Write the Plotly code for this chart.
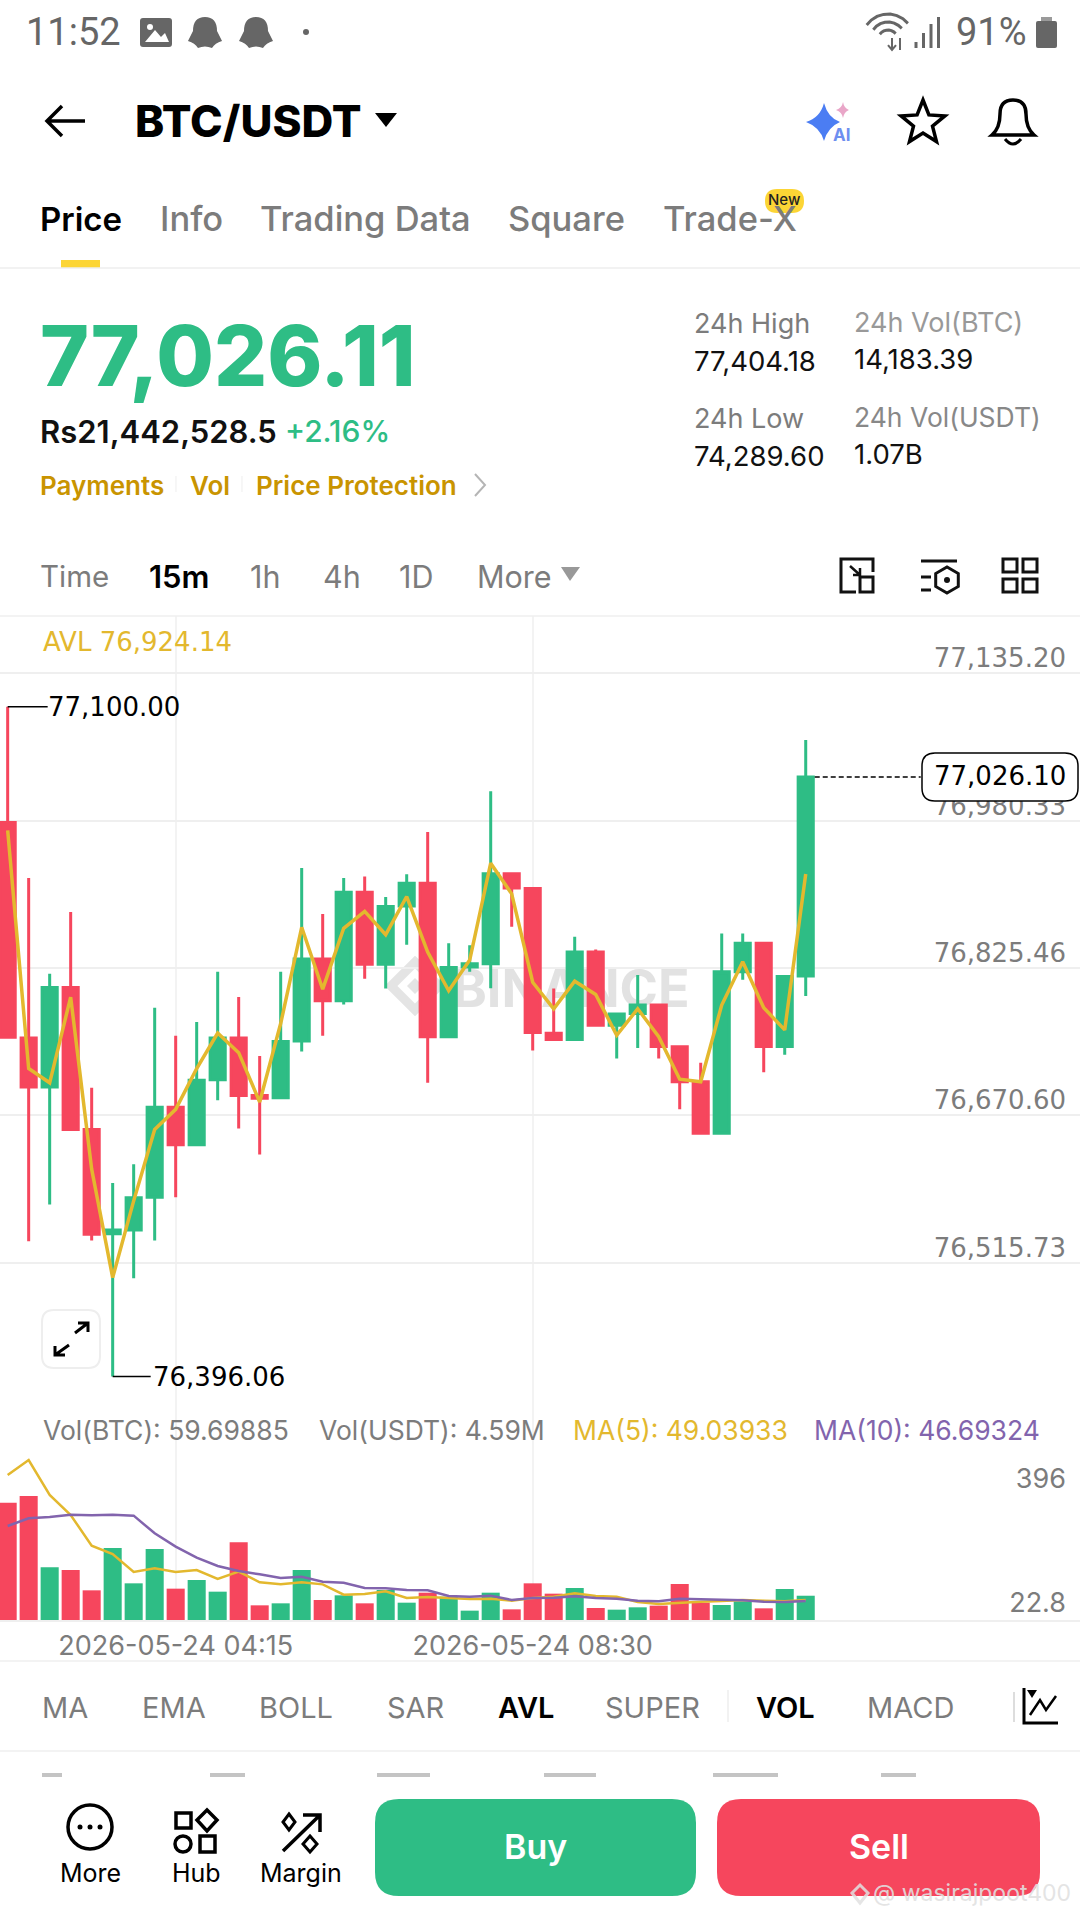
import math
import re
import pandas as pd
import plotly.graph_objects as go

# ---------- data ----------
times = pd.date_range("2026-05-24 02:15", periods=39, freq="15min")
opens = [76978.4, 76751.9, 76700.2, 76804.8, 76655.7, 76546.1, 76550.0, 76584.5, 76679.1, 76639.6,
         76708.0, 76751.9, 76691.3, 76689.1, 76748.6, 76834.8, 76790.9, 76904.9, 76829.3, 76890.5,
         76914.4, 76753.1, 76826.5, 76829.8, 76924.4, 76908.8, 76756.9, 76750.3, 76842.1, 76765.3,
         76777.5, 76786.4, 76742.5, 76705.8, 76651.8, 76821.5, 76851.5, 76743.0, 76817.0]
closes = [76752.5, 76700.2, 76804.8, 76655.7, 76545.6, 76550.0, 76583.9, 76679.1, 76639.6, 76707.4,
          76751.9, 76691.3, 76688.5, 76748.0, 76834.8, 76790.9, 76904.9, 76829.3, 76889.9, 76914.4,
          76753.1, 76825.9, 76829.8, 76924.4, 76909.4, 76757.5, 76750.3, 76842.1, 76765.3, 76777.0,
          76786.4, 76743.0, 76705.8, 76651.8, 76821.5, 76851.5, 76743.0, 76816.5, 77026.1]
highs = [77100.0, 76919.9, 76819.2, 76884.3, 76699.6, 76599.5, 76619.0, 76783.6, 76754.2, 76768.6,
         76821.5, 76794.8, 76733.0, 76821.5, 76930.5, 76882.1, 76919.9, 76921.6, 76899.9, 76923.8,
         76968.3, 76851.5, 76849.3, 77011.2, 76924.4, 76908.8, 76803.7, 76858.2, 76844.8, 76777.0,
         76818.1, 76786.4, 76742.5, 76725.8, 76861.5, 76861.5, 76851.5, 76816.5, 77065.1]
lows = [76752.5, 76538.3, 76576.7, 76655.7, 76538.9, 76396.06, 76499.4, 76538.9, 76584.5, 76639.6,
        76686.3, 76656.8, 76629.5, 76689.1, 76737.5, 76754.2, 76787.0, 76814.2, 76803.7, 76849.8,
        76704.7, 76753.1, 76821.5, 76804.2, 76868.8, 76738.6, 76750.3, 76750.3, 76763.6, 76730.2,
        76741.4, 76730.2, 76676.8, 76651.8, 76651.8, 76813.1, 76715.8, 76734.1, 76795.9]
avl = [76970.0, 76719.7, 76704.7, 76794.8, 76614.0, 76500.0, 76580.6, 76655.7, 76676.8, 76719.7,
       76757.0, 76736.4, 76684.6, 76767.0, 76868.2, 76803.1, 76867.1, 76884.9, 76860.4, 76900.5,
       76842.1, 76801.5, 76833.7, 76935.5, 76903.3, 76810.4, 76782.5, 76811.5, 76797.6, 76754.7,
       76782.5, 76753.1, 76708.5, 76705.8, 76786.4, 76832.0, 76783.6, 76760.3, 76924.14]
volumes = [288.6, 305.0, 129.6, 123.0, 73.0, 177.1, 90.2, 174.7, 77.1, 98.4,
           69.7, 191.1, 36.1, 41.0, 123.0, 49.2, 60.7, 41.0, 73.8, 42.6,
           67.2, 57.4, 23.0, 67.2, 26.2, 90.2, 64.8, 78.7, 29.5, 25.4,
           31.2, 35.3, 88.6, 42.6, 36.9, 45.9, 28.7, 76.3, 59.7]
ma5 = [356.7, 393.6, 307.5, 258.3, 182.9, 162.4, 118.1, 127.1, 118.1, 123.0,
       100.9, 118.9, 92.7, 87.7, 92.7, 87.7, 62.3, 64.0, 70.5, 54.1,
       56.6, 53.3, 51.7, 52.5, 47.6, 54.1, 57.4, 65.6, 59.0, 57.4,
       44.3, 39.4, 42.6, 45.1, 46.7, 49.2, 47.6, 45.9, 49.04]
ma10 = [231.2, 250.1, 253.4, 259.1, 257.5, 259.1, 256.7, 213.2, 180.4, 153.3,
        132.8, 120.5, 112.3, 103.3, 106.6, 94.3, 91.8, 78.7, 77.9, 73.8,
        73.0, 59.0, 57.4, 59.9, 49.2, 54.1, 54.9, 58.2, 54.1, 52.5,
        47.6, 45.9, 52.5, 50.8, 50.8, 48.4, 45.1, 44.3, 46.69]
price_ticks = [77135.20, 76980.33, 76825.46, 76670.60, 76515.73, 76360.86]
time_ticks = ["2026-05-24 04:15", "2026-05-24 08:30"]
vol_tick_labels = ["22.8", "396"]
vol_tick_vals = [0, 307]
last_price = 77026.10
high_price = 77100.00
low_price = 76396.06

# ---------- style ----------
W, H = 1080, 1920
GREEN, RED = "#2EBD85", "#F6465D"
GRAY, LIGHT = "#7C7C7C", "#EFEFEF"
YELLOW, PURPLE = "#E3B82E", "#8264AD"
FONT = "Inter"
WIDE = "DejaVu Sans"
bar_colors = [GREEN if c >= o else RED for o, c in zip(opens, closes)]

def X(px):
    return px / W

def Y(py):
    return 1 - py / H

def P(d):
    toks = re.findall(r"[MLQCZ]|-?\d+\.?\d*", d)
    out, nums = [], []
    for t in toks:
        if t.isalpha():
            out.append(t)
        else:
            nums.append(float(t))
            if len(nums) == 2:
                out.append(f"{X(nums[0]):.5f},{Y(nums[1]):.5f}")
                nums = []
    return " ".join(out)

shapes, anns = [], []

def path(d, line=None, w=2.0, fill=None, layer="above"):
    s = dict(type="path", xref="paper", yref="paper", path=P(d), layer=layer,
             line=dict(color=line or "rgba(0,0,0,0)", width=w if line else 0))
    if fill:
        s["fillcolor"] = fill
    shapes.append(s)

def rrect(x0, y0, x1, y1, r, **kw):
    path(f"M {x0+r} {y0} L {x1-r} {y0} Q {x1} {y0} {x1} {y0+r} L {x1} {y1-r} Q {x1} {y1} {x1-r} {y1} "
         f"L {x0+r} {y1} Q {x0} {y1} {x0} {y1-r} L {x0} {y0+r} Q {x0} {y0} {x0+r} {y0} Z", **kw)

def circle(cx, cy, r, line=None, w=2.0, fill=None):
    s = dict(type="circle", xref="paper", yref="paper", x0=X(cx-r), x1=X(cx+r), y0=Y(cy+r), y1=Y(cy-r),
             line=dict(color=line or "rgba(0,0,0,0)", width=w if line else 0))
    if fill:
        s["fillcolor"] = fill
    shapes.append(s)

def text(x, y, t, size=27, color=GRAY, bold=False, anchor="left", font=FONT, weight=None):
    anns.append(dict(xref="paper", yref="paper", x=X(x), y=Y(y), text=t, showarrow=False, xanchor=anchor,
                     yanchor="middle", borderpad=0,
                     font=dict(family=font, size=size, color=color, weight=weight or (700 if bold else 400))))

# ---------- status bar ----------
text(25, 32, "11:52", 38, "#666666", font="Roboto")
rrect(140, 18, 172, 47, 3, fill="#666666")
path("M 145 42 L 155 30 L 161 37 L 165 33 L 169 42 Z", fill="#FFFFFF")
circle(150, 27, 3, fill="#FFFFFF")
for cx in (205, 256):
    path(f"M {cx} 17 Q {cx+12} 17 {cx+12} 31 L {cx+17} 41 Q {cx+10} 43 {cx+7} 48 Q {cx} 45 {cx-7} 48 "
         f"Q {cx-10} 43 {cx-17} 41 L {cx-12} 31 Q {cx-12} 17 {cx} 17 Z", fill="#666666")
circle(306, 32, 3, fill="#666666")
for r, wd in ((26, 3), (18, 3), (10, 3)):
    pts = [(888 + r * math.cos(math.radians(a)), 40 + r * math.sin(math.radians(a))) for a in range(215, 326, 15)]
    path("M " + " L ".join(f"{a:.1f} {b:.1f}" for a, b in pts), line="#666666", w=wd)
path("M 892 38 L 892 50 M 888 45 L 892 50 L 896 45 M 900 50 L 900 38", line="#666666", w=2)
for i, top in enumerate((42, 33, 24, 17)):
    x = 916 + i * 7.5
    path(f"M {x} {top} L {x} 48", line="#666666", w=3)
text(955, 32, "91%", 38, "#666666", font="Roboto")
rrect(1036, 21, 1057, 48, 2, fill="#666666")
path("M 1041 17 L 1052 17 L 1052 21 L 1041 21 Z", fill="#9A9A9A")

# ---------- title bar ----------
path("M 85 121 L 47 121 M 62 106 L 47 121 L 62 136", line="#000000", w=3.5)
text(134, 121, "BTC/USDT", 44, "#000000", weight=800)
path("M 375 113 L 397 113 L 386 127 Z", fill="#000000")
path("M 824 103 Q 828 118 840 122 Q 828 127 824 141 Q 820 127 806 122 Q 820 118 824 103 Z", fill="#4B7DF3")
path("M 843 102 Q 844 108 849 110 Q 844 112 843 118 Q 842 112 836 110 Q 842 108 843 102 Z", fill="#E9A6C8")
text(841, 135, "AI", 17, "#6E8FF0", True, "center")
star = []
for i in range(10):
    r = 23 if i % 2 == 0 else 10
    a = math.radians(-90 + i * 36)
    star.append((921 + r * math.cos(a) + 2, 123 + r * math.sin(a)))
path("M " + " L ".join(f"{a:.1f} {b:.1f}" for a, b in star) + " Z", line="#000000", w=3.5)
path("M 992 135 Q 1000 128 1000 114 Q 1000 100 1013 100 Q 1026 100 1026 114 Q 1026 128 1034 135 Z",
     line="#000000", w=3.5)
path("M 1005 139 Q 1013 149 1021 139", line="#000000", w=3)

# ---------- tabs ----------
text(39, 219, "Price", 33, "#000000", weight=600)
for x, t in ((159, "Info"), (259, "Trading Data"), (507, "Square"), (662, "Trade-X")):
    text(x, 219, t, 34.5, GRAY, weight=500)
rrect(765, 189, 804, 213, 12, fill="#FCD535")
text(784, 200, "New", 15, "#222222", weight=500, anchor="center")
path("M 61 260 L 100 260 L 100 268 L 61 268 Z", fill="#FCD535")
path("M 0 268 L 1080 268", line="#EEEEEE", w=1.5)

# ---------- price header ----------
text(39, 355, "77,026.11", 83.5, GREEN, weight=800)
text(39, 432, "Rs21,442,528.5", 31, "#111111", weight=600)
text(284, 431, "+2.16%", 30, GREEN, weight=500)
text(39, 485, "Payments", 26, "#C99400", weight=600)
text(189, 485, "Vol", 26, "#C99400", weight=600)
text(255, 485, "Price Protection", 26, "#C99400", weight=600)
path("M 176 476 L 176 492 M 242 476 L 242 492", line="#EEEEEE", w=1)
path("M 475 474 L 485 485 L 475 496", line="#B5B5B5", w=2)
for x, y, t, c, sz in ((693, 324, "24h High", GRAY, 27), (693, 361, "77,404.18", "#111111", 27.5),
                       (693, 418, "24h Low", GRAY, 27), (693, 456, "74,289.60", "#111111", 27.5),
                       (853, 322, "24h Vol(BTC)", "#999999", 27), (853, 359, "14,183.39", "#111111", 27.5),
                       (853, 417, "24h Vol(USDT)", "#888888", 26.5), (853, 454, "1.07B", "#111111", 27.5)):
    text(x, y, t, sz, c)

# ---------- interval row ----------
text(39, 576, "Time", 29.5, GRAY)
text(148, 576, "15m", 31, "#000000", weight=600)
for x, t in ((249, "1h"), (322, "4h"), (398, "1D"), (476, "More")):
    text(x, 576, t, 30.5, GRAY)
path("M 561 567 L 580 567 L 570 581 Z", fill="#999999")
path("M 873 572 L 873 559 L 841 559 L 841 592 L 856 592", line="#111111", w=3)
path("M 860 577 L 873 577 L 873 592 L 860 592 Z", line="#111111", w=3)
path("M 850 566 L 860 575 M 860 568 L 860 575 L 853 575", line="#111111", w=2.5)
path("M 921 561 L 957 561 M 921 577 L 931 577 M 921 590 L 931 590", line="#111111", w=3)
hexa = [(947 + 13 * math.sin(math.radians(a)), 580 + 13 * math.cos(math.radians(a))) for a in range(0, 360, 60)]
path("M " + " L ".join(f"{a:.1f} {b:.1f}" for a, b in hexa) + " Z", line="#111111", w=3)
circle(947, 580, 3, fill="#111111")
for x0, y0 in ((1003, 559), (1023, 559), (1003, 579), (1023, 579)):
    path(f"M {x0} {y0} L {x0+14} {y0} L {x0+14} {y0+13} L {x0} {y0+13} Z", line="#111111", w=3)
path("M 0 616 L 1080 616", line=LIGHT, w=1.5)

# ---------- chart overlays ----------
text(42, 642, "AVL 76,924.14", 26, YELLOW, font=WIDE)
path("M 415 962 L 439 986 L 415 1010 L 391 986 Z", line="#E4E4E4", w=9, layer="below")
path("M 415 978 L 423 986 L 415 994 L 407 986 Z", fill="#E4E4E4", layer="below")
shapes.append(dict(type="rect", xref="paper", yref="paper", x0=X(445), x1=X(697), y0=Y(1012), y1=Y(960),
                   layer="below", line=dict(width=0), fillcolor="rgba(0,0,0,0)",
                   label=dict(text="BINANCE", textposition="middle center",
                              font=dict(family=FONT, size=52, color="#E2E2E2", weight=700))))

line_black = dict(color="#000000", width=1.5)
shapes.append(dict(type="line", xref="x", yref="y", xsizemode="pixel", xanchor=times[0], x0=0, x1=40,
                   y0=high_price, y1=high_price, line=line_black))
shapes.append(dict(type="line", xref="x", yref="y", xsizemode="pixel", xanchor=times[5], x0=0, x1=38,
                   y0=low_price, y1=low_price, line=line_black))
anns.append(dict(xref="x", yref="y", x=times[0], y=high_price, xshift=38, xanchor="left", yanchor="middle",
                 showarrow=False, text=f"{high_price:,.2f}", font=dict(family=WIDE, size=26, color="#000000")))
anns.append(dict(xref="x", yref="y", x=times[5], y=low_price, xshift=38, xanchor="left", yanchor="middle",
                 showarrow=False, text=f"{low_price:,.2f}", font=dict(family=WIDE, size=26, color="#000000")))
shapes.append(dict(type="line", xref="x", yref="y", xsizemode="pixel", xanchor=times[38], x0=9, x1=115,
                   y0=last_price, y1=last_price, line=dict(color="#000000", width=1.5, dash="5px,3px")))
rrect(922, 753, 1078, 801, 13, line="#000000", w=1.5, fill="#FFFFFF")
text(1000, 776, f"{last_price:,.2f}", 26, "#000000", anchor="center", font=WIDE)
rrect(42, 1310, 100, 1368, 12, line="#EEEEEE", w=2, fill="#FFFFFF")
path("M 55 1355 L 69 1345 M 55 1346 L 55 1355 L 65 1355", line="#000000", w=3)
path("M 75 1333 L 88 1323 M 78 1323 L 88 1323 L 88 1332", line="#000000", w=3)

# ---------- volume header ----------
text(42, 1430, "Vol(BTC): 59.69885", 26.5, GRAY)
text(318, 1430, "Vol(USDT): 4.59M", 26.5, GRAY)
text(572, 1430, "MA(5): 49.03933", 26.5, YELLOW)
text(813, 1430, "MA(10): 46.69324", 26.5, PURPLE)

# ---------- bottom rows ----------
path("M 0 1661 L 1080 1661", line=LIGHT, w=1.5)
for x, t in ((41, "MA"), (141, "EMA"), (258, "BOLL"), (386, "SAR"), (604, "SUPER"), (866, "MACD")):
    text(x, 1707, t, 29, GRAY)
text(497, 1707, "AVL", 29, "#000000", weight=600)
text(755, 1707, "VOL", 29, "#000000", weight=600)
path("M 728 1690 L 728 1722", line="#EEEEEE", w=1.5)
path("M 1014 1692 L 1014 1722", line="#DDDDDD", w=2)
path("M 1024 1688 L 1024 1723 L 1058 1723", line="#000000", w=3)
path("M 1030 1715 L 1040 1700 L 1046 1710 L 1056 1696", line="#000000", w=2.5)
path("M 1027 1690 L 1037 1690 L 1032 1698 Z", fill="#000000")
path("M 0 1751 L 1080 1751", line=LIGHT, w=1.5)
for a, b in ((42, 62), (210, 245), (377, 430), (544, 596), (713, 778), (881, 916)):
    path(f"M {a} 1775 L {b} 1775", line="#C4C4C4", w=4)

rrect(375, 1799, 696, 1896, 24, fill=GREEN)
rrect(717, 1799, 1040, 1896, 24, fill=RED)
text(535, 1846, "Buy", 34, "#FFFFFF", weight=600, anchor="center")
text(879, 1846, "Sell", 34, "#FFFFFF", weight=600, anchor="center")
circle(90, 1827, 22, line="#000000", w=3.5)
for x in (80, 90, 100):
    circle(x, 1827, 2.5, fill="#000000")
text(90, 1873, "More", 25, "#000000", anchor="center")
path("M 176 1813 L 191 1813 L 191 1828 L 176 1828 Z", line="#000000", w=3.5)
path("M 207 1810 L 217 1820 L 207 1831 L 197 1820 Z", line="#000000", w=3.5)
circle(183, 1844, 8, line="#000000", w=3.5)
path("M 200 1836 L 215 1836 L 215 1852 L 200 1852 Z", line="#000000", w=3.5)
text(196, 1873, "Hub", 25, "#000000", anchor="center")
path("M 289 1814 L 295 1822 L 289 1830 L 283 1822 Z", line="#000000", w=3)
path("M 310 1836 L 317 1844 L 310 1852 L 303 1844 Z", line="#000000", w=3)
path("M 283 1851 L 320 1815 M 303 1815 L 320 1815 L 320 1832", line="#000000", w=3.5)
text(301, 1873, "Margin", 25, "#000000", anchor="center")
path("M 852 1893 L 860 1885 L 868 1893 L 860 1903 Z", line="rgba(225,225,225,0.85)", w=3)
text(872, 1893, "@ wasirajpoot400", 23, "rgba(225,225,225,0.9)")

# ---------- figure ----------
fig = go.Figure()
fig.add_trace(go.Candlestick(x=times, open=opens, high=highs, low=lows, close=closes, xaxis="x", yaxis="y",
                             increasing=dict(line=dict(color=GREEN, width=3), fillcolor=GREEN),
                             decreasing=dict(line=dict(color=RED, width=3), fillcolor=RED),
                             whiskerwidth=0, hoverinfo="skip", showlegend=False))
fig.add_trace(go.Scatter(x=times, y=avl, mode="lines", line=dict(color=YELLOW, width=3.5), xaxis="x", yaxis="y",
                         showlegend=False, hoverinfo="skip"))
fig.add_trace(go.Bar(x=times, y=volumes, marker=dict(color=bar_colors, line=dict(width=0)), xaxis="x2", yaxis="y2",
                     showlegend=False, hoverinfo="skip"))
fig.add_trace(go.Scatter(x=times, y=ma5, mode="lines", line=dict(color=YELLOW, width=2.5), xaxis="x2", yaxis="y2",
                         showlegend=False, hoverinfo="skip"))
fig.add_trace(go.Scatter(x=times, y=ma10, mode="lines", line=dict(color=PURPLE, width=2.5), xaxis="x2", yaxis="y2",
                         showlegend=False, hoverinfo="skip"))

step = pd.Timedelta(minutes=15)
x_range = [times[0] - 0.365 * step, times[0] + 51.06 * step]
tick_font = dict(family=WIDE, size=26, color=GRAY)
xaxis_common = dict(range=x_range, type="date", showgrid=True, gridcolor="#F3F3F3", gridwidth=1.5,
                    tickmode="array", tickvals=time_ticks, zeroline=False, rangeslider=dict(visible=False))
fig.update_layout(
    width=W, height=H, margin=dict(l=0, r=0, t=0, b=0), paper_bgcolor="#FFFFFF", plot_bgcolor="#FFFFFF",
    bargap=0.14, boxgap=0.1, boxgroupgap=0.2, showlegend=False, hovermode=False,
    xaxis=dict(xaxis_common, domain=[0, 1], anchor="y", showticklabels=False, ticks=""),
    xaxis2=dict(xaxis_common, domain=[0, 1], anchor="y2", matches="x", tickformat="%Y-%m-%d %H:%M", ticks="",
                tickfont=dict(family=FONT, size=27, color=GRAY), showline=True, linecolor=LIGHT, linewidth=1.5,
                ticklabelstandoff=1),
    yaxis=dict(domain=[Y(1410), Y(616)], range=[76360.86, 77195.3], anchor="x", side="right", tickmode="array",
               tickvals=price_ticks, tickformat=",.2f", ticklabelposition="inside", ticklabelstandoff=11,
               ticklabelshift=-15, tickfont=tick_font, showgrid=True, gridcolor=LIGHT, gridwidth=1.5,
               zeroline=False, ticks=""),
    yaxis2=dict(domain=[Y(1620), Y(1410)], range=[0, 516.6], anchor="x2", side="right", tickmode="array",
                tickvals=vol_tick_vals, ticktext=vol_tick_labels, ticklabelposition="inside", ticklabelstandoff=11,
                ticklabelshift=-17, tickfont=dict(family=FONT, size=27, color=GRAY), showgrid=False,
                zeroline=False, ticks=""),
    shapes=shapes, annotations=anns,
)
fig.write_html("out.html", config=dict(displayModeBar=False),
               post_script="document.body.style.margin='0';")
